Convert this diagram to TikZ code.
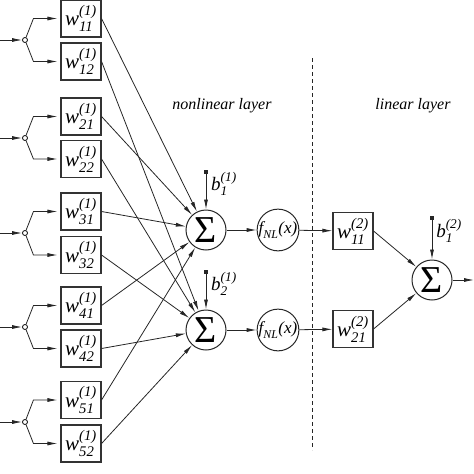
\documentclass[tikz,border=0pt]{standalone}
\usepackage{amsmath}
\usepackage{fontspec}
\setmainfont{Liberation Serif}
\usetikzlibrary{arrows.meta}
\newcommand\wlab[2]{$\textit{w}^{\textit{(#2)}}_{\textit{#1}}$}
\newcommand\blab[2]{$\textit{b}^{\textit{(#2)}}_{\textit{#1}}$}
\begin{document}
\begin{tikzpicture}
[x=1pt,y=-1pt,
  boxDecorate/.style={shape=rectangle,draw=black!80,line width=1.1pt,minimum width=40pt,
    minimum height=37pt,inner sep=0pt,font=\fontsize{21}{21}\selectfont},
  sumDecorate/.style={shape=circle,draw=black!85,line width=1pt,minimum size=40pt,inner sep=0pt,
    font=\fontsize{38}{38}\selectfont},
  funDecorate/.style={shape=circle,draw=black!85,line width=1pt,minimum size=40pt,inner sep=0pt,
    font=\fontsize{17}{17}\selectfont},
  forkDecorate/.style={shape=circle,draw,line width=0.8pt,minimum size=5pt,inner sep=0pt,fill=white},
  biasDecorate/.style={shape=rectangle,fill=black!85,minimum size=4pt,inner sep=0pt},
  arrowDecorate/.style={-{Latex[length=10pt,width=4pt]},line width=0.8pt,draw=black!85},
  textDecorate/.style={font=\fontsize{16}{16}\selectfont\itshape},
  labelDecorate/.style={font=\fontsize{19}{19}\selectfont,inner sep=0pt}]
\useasboundingbox (0,0) rectangle (474,474);
%% input pairs
\foreach \i/\ya/\yb/\yc in {
  1/18.5/61.5/40, 2/116.5/159/138, 3/211.5/255/233,
  4/305.5/348.5/327, 5/400/443.5/422}
{
  \node (w\i1) at (81,\ya) [boxDecorate] {\wlab{\i1}{1}};
  \node (w\i2) at (81,\yb) [boxDecorate] {\wlab{\i2}{1}};
  \node (c\i) at (25,\yc) [forkDecorate] {};
  \coordinate (in\i) at (0,\yc);
  \draw[arrowDecorate] (in\i) -- (c\i);
  \draw[arrowDecorate,shorten >=3pt] (c\i) -- ([xshift=-27pt]w\i1.west) -- (w\i1.west);
  \draw[arrowDecorate,shorten >=3pt] (c\i) -- ([xshift=-27pt]w\i2.west) -- (w\i2.west);
}
%% nonlinear layer
\node (s1) at (206,230) [sumDecorate] {Σ};
\node (s2) at (206,330) [sumDecorate] {Σ};
\node (f1) at (278,230) [funDecorate] {$\textit{f}_{\textit{NL}}\textit{(x)}$};
\node (f2) at (278,330) [funDecorate] {$\textit{f}_{\textit{NL}}\textit{(x)}$};
\node (b1) at (206,172) [biasDecorate] {};
\node (b2) at (206,272) [biasDecorate] {};
\node (lb1) at (224,184) [labelDecorate] {\blab{1}{1}};
\node (lb2) at (224,284) [labelDecorate] {\blab{2}{1}};
%% linear layer
\node (v1) at (353,231) [boxDecorate] {\wlab{11}{2}};
\node (v2) at (353,329) [boxDecorate] {\wlab{21}{2}};
\node (s3) at (432,280) [sumDecorate] {Σ};
\node (b3) at (432,218) [biasDecorate] {};
\node (lb3) at (449,231) [labelDecorate] {\blab{1}{2}};
\coordinate (out) at (474,280);
%% titles and divider
\node (t1) at (222,106) [textDecorate] {nonlinear layer};
\node (t2) at (413,106) [textDecorate] {linear layer};
\coordinate (dtop) at (312,58);
\coordinate (dbot) at (312,450);
\draw[line width=1pt,black!85,dash pattern=on 4pt off 3pt] (dtop) -- (dbot);
%% edges
\path
\foreach \startnode/\endnode in {
  w11/s1, w12/s2, w21/s1, w22/s2, w31/s1, w32/s2,
  w41/s1, w42/s2, w51/s1, w52/s2, v1/s3, v2/s3}
{
  (\startnode.east) edge[arrowDecorate] (\endnode)
};
\path
\foreach \startnode/\endnode in {
  b1/s1, b2/s2, b3/s3, s1/f1, s2/f2, f1/v1, f2/v2, s3/out}
{
  (\startnode) edge[arrowDecorate] (\endnode)
};
\end{tikzpicture}
\end{document}
